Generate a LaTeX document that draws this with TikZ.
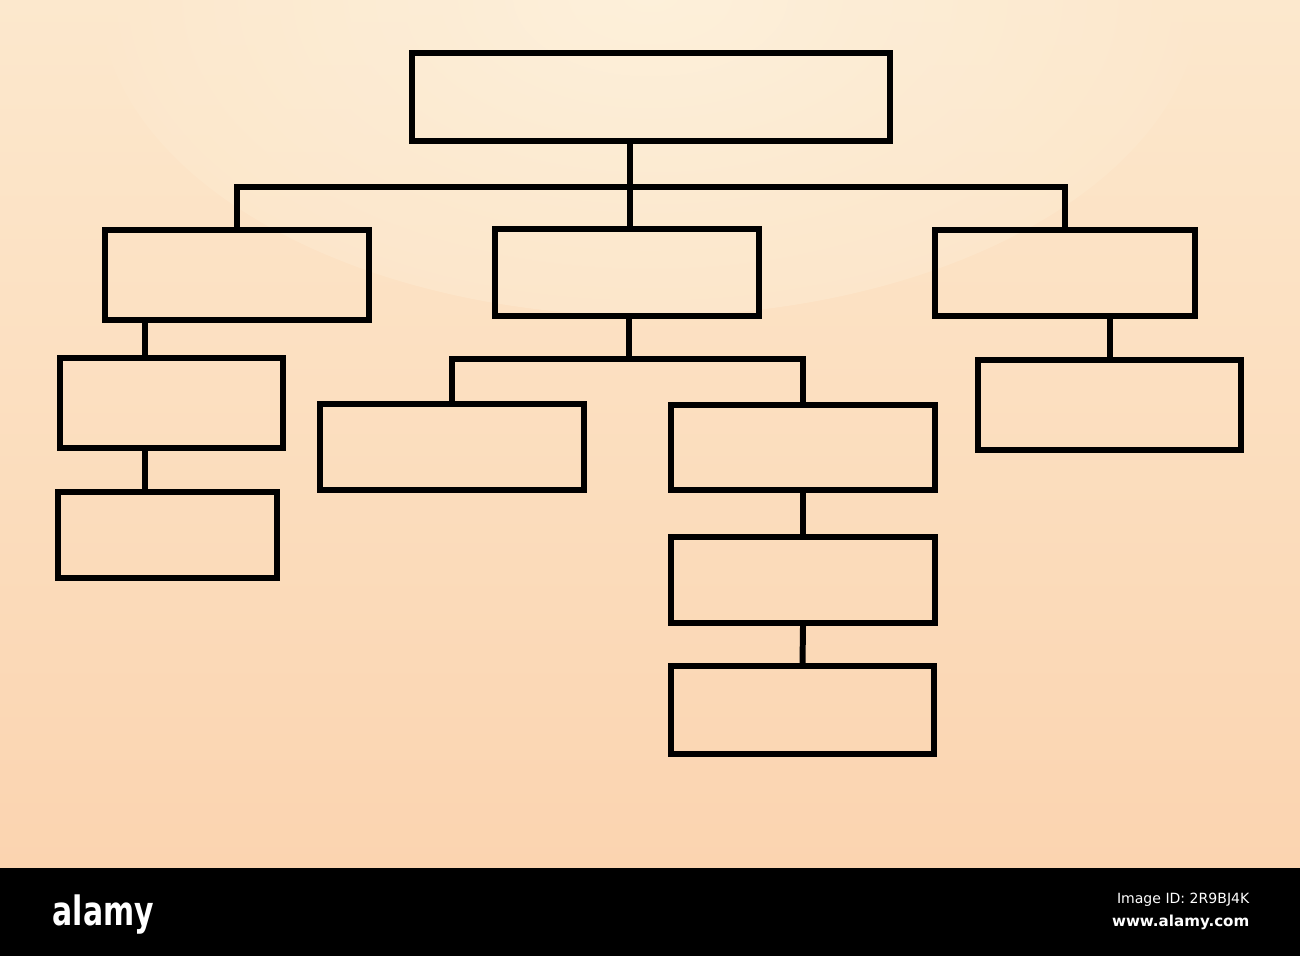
\documentclass[tikz,border=0pt]{standalone}
\usepackage{fontspec}
\setsansfont{DejaVu Sans}
\usepackage{tikz}
\usetikzlibrary{backgrounds}
\usetikzlibrary{calc, positioning}
\definecolor{paperTop}{RGB}{252,232,205}
\definecolor{paperBot}{RGB}{251,212,176}
\definecolor{paperGlow}{RGB}{254,242,222}
\tikzset{
  chartbox/.style={draw=black, line width=1.7pt, minimum width=#1, inner sep=0pt},
  chartbox/.default={2.64cm},
  link/.style={black, line width=1.7pt},
}

\begin{document}
\begin{tikzpicture}
          % Paper background
          \useasboundingbox (0,0) rectangle (13,9.56);
          \shade[top color=paperTop, bottom color=paperBot] (0,0.88) rectangle (13,9.56);
          \begin{scope}
            \clip (0,0.88) rectangle (13,9.56);
            \shade[inner color=paperGlow, outer color=paperTop, opacity=0.8] (6.5,9.6) ellipse (5.5 and 3.2);
          \end{scope}
          % Bottom bar
          \fill[black] (0,0) rectangle (13,0.88);
          \node[white, font=\sffamily\bfseries\fontsize{11.5}{12}\selectfont, anchor=base west, inner sep=0pt] (brand) at (0.52,0.31) {\scalebox{0.74}[1]{alamy}};
          \node[white, font=\sffamily\fontsize{4}{5}\selectfont, anchor=base east, inner sep=0pt] (imgid) at (12.50,0.53) {Image ID: 2R9BJ4K};
          \node[white, font=\sffamily\bfseries\fontsize{4.3}{5}\selectfont, anchor=base east, inner sep=0pt] (site) at (12.50,0.30) {www.alamy.com};
          % Top box
          \node[chartbox=4.78cm, minimum height=0.88cm] (top) at (6.51,8.59) {};
          % First level
          \node[chartbox, minimum height=0.90cm] (left) at (2.37,6.81) {};
          \node[chartbox, minimum height=0.87cm] (mid) at (6.27,6.835) {};
          \node[chartbox=2.60cm, minimum height=0.86cm] (right) at (10.65,6.83) {};
          % Left chain
          \node[chartbox=2.23cm, minimum height=0.90cm] (leftA) at (1.715,5.53) {};
          \node[chartbox=2.19cm, minimum height=0.86cm] (leftB) at (1.675,4.21) {};
          % Middle branch
          \node[chartbox, minimum height=0.86cm] (midA) at (4.52,5.09) {};
          \node[chartbox, minimum height=0.85cm] (midB) at (8.03,5.085) {};
          \node[chartbox, minimum height=0.86cm] (midC) at (8.03,3.76) {};
          \node[chartbox=2.63cm, minimum height=0.88cm] (midD) at (8.025,2.46) {};
          % Right chain
          \node[chartbox=2.63cm, minimum height=0.90cm] (rightA) at (11.095,5.51) {};
          % Bus under top box
          \coordinate (busTop) at (6.30,7.69);
          \draw[link] (top.south -| busTop) -- (busTop);
          \draw[link] (left.north) -- (left.north |- busTop) -- (right.north |- busTop) -- (right.north);
          \draw[link] (busTop) -- (busTop |- mid.north);
          % Bus under middle box
          \coordinate (busMid) at (6.29,5.97);
          \draw[link] (mid.south -| busMid) -- (busMid);
          \draw[link] (midA.north) -- (midA.north |- busMid) -- (midB.north |- busMid) -- (midB.north);
          % Vertical links
          \draw[link] ([xshift=0.88cm]leftA.north west) -- ([xshift=0.88cm]leftA.north west |- left.south);
          \draw[link] ([xshift=0.88cm]leftA.south west) -- ([xshift=0.88cm]leftA.south west |- leftB.north);
          \draw[link] (midB.south) -- (midC.north);
          \draw[link] (midC.south) -- (midD.north);
          \draw[link] (right.south -| rightA.north) -- (rightA.north);
        \end{tikzpicture}
\end{document}
